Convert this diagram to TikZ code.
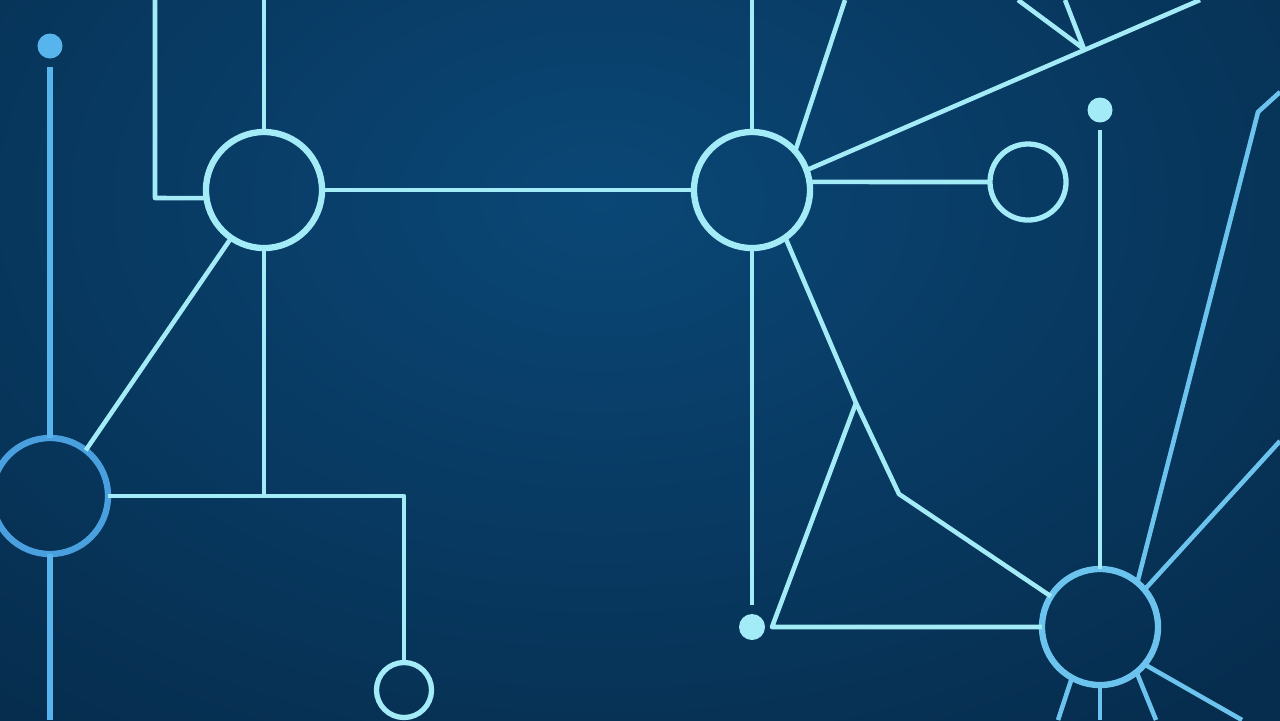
\documentclass[tikz,border=0pt]{standalone}
\usepackage{tikz}
\usetikzlibrary{positioning}
\definecolor{bglight}{HTML}{0A4776}
\definecolor{bgdark}{HTML}{062D4E}
\definecolor{wirecyan}{HTML}{A3EBF7}
\definecolor{wireblue}{HTML}{58B4EC}
\definecolor{ringblue}{HTML}{4A9FDF}
\definecolor{ringsky}{HTML}{6CC4EE}

\begin{document}
\begin{tikzpicture}[
        x = 0.01cm,
        y = -0.01cm,
        hub/.style = {
            draw = wirecyan,
            circle,
            minimum size = #1,
            line width = 1.8pt,
            inner sep = 0pt,
            outer sep = 0pt
        },
        hub/.default = 1.16cm,
        dot/.style = {
            circle,
            fill = wirecyan,
            minimum size = 0.25cm,
            inner sep = 0pt,
            outer sep = 0pt
        },
        wire/.style = {draw = wirecyan, line width = 1.3pt, line join = round}
    ]
    \useasboundingbox (0,0) rectangle (1280,720);
    \clip (0,0) rectangle (1280,720);
    \shade[inner color = bglight, outer color = bgdark] (-350,-450) rectangle (1550,850);

    \node[hub] (1) at (264,190) {};
    \node[hub] (2) at (752,190) {};
    \node[hub, draw = ringblue] (3) at (50,496) {};
    \node[hub, draw = ringsky] (4) at (1100,627) {};
    \node[hub = 0.76cm, line width = 1.5pt] (5) at (1028,182) {};
    \node[hub = 0.55cm, line width = 1.5pt] (6) at (404,690) {};
    \node[dot, fill = wireblue] (7) at (50,46) {};
    \node[dot] (8) at (1100,110) {};
    \node[dot, minimum size = 0.26cm] (9) at (752,627) {};

    \coordinate (t1) at (264,0);
    \coordinate (t2) at (155,0);
    \coordinate (t3) at (752,0);
    \coordinate (t4) at (845,0);
    \coordinate (t5) at (1018,0);
    \coordinate (t6) at (1065,0);
    \coordinate (t7) at (1200,0);
    \coordinate (b1) at (155,198);
    \coordinate (b2) at (404,496);
    \coordinate (j1) at (1084,49);
    \coordinate (j2) at (264,496);
    \coordinate (k1) at (856,403);
    \coordinate (k2) at (899,494);
    \coordinate (k3) at (772,627);
    \coordinate (k4) at (1258,112);
    \coordinate (r1) at (1280,92);
    \coordinate (r2) at (1280,441);
    \coordinate (d1) at (50,720);
    \coordinate (d2) at (1058,720);
    \coordinate (d3) at (1100,720);
    \coordinate (d4) at (1156,720);
    \coordinate (d5) at (1242,720);

    \draw[wire] (t1) -- (1);
    \draw[wire] (t2) -- (b1) -- (1.188);
    \draw[wire] (1) -- (2);
    \draw[wire] (1) -- (j2);
    \draw[wire] (1) -- (3.52);
    \draw[wire] (3) -- (b2) -- (6);
    \draw[wire, draw = wireblue, line width = 1.7pt, shorten <= 0.08cm] (7) -- (3);
    \draw[wire, draw = wireblue, line width = 1.7pt] (3) -- (d1);

    \draw[wire] (t3) -- (2);
    \draw[wire] (2.42) -- (t4);
    \draw[wire] (2.20) -- (t7);
    \draw[wire] (t5) -- (j1) -- (t6);
    \draw[wire] (2.8) -- (5);
    \draw[wire, shorten >= 0.09cm] (2) -- (9);
    \draw[wire] (2.-55) -- (k1) -- (k2) -- (4.148);
    \draw[wire] (k1) -- (k3) -- (4);

    \draw[wire, shorten <= 0.075cm] (8) -- (4);
    \draw[wire, draw = ringsky] (4.50) -- (k4) -- (r1);
    \draw[wire, draw = ringsky] (4.40) -- (r2);
    \draw[wire, draw = ringsky] (4.-119) -- (d2);
    \draw[wire, draw = ringsky] (4) -- (d3);
    \draw[wire, draw = ringsky] (4.-51) -- (d4);
    \draw[wire, draw = ringsky] (4.-40) -- (d5);
\end{tikzpicture}
\end{document}
